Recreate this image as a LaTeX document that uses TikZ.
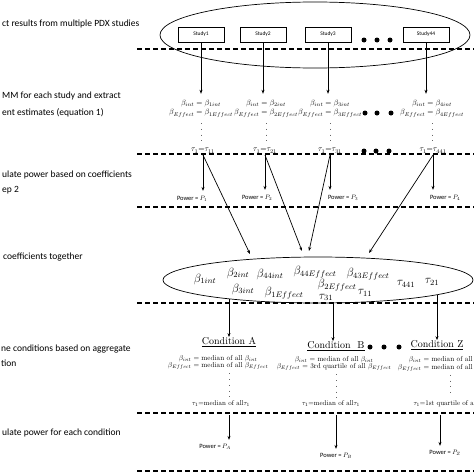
\documentclass[tikz,border=0pt]{standalone}
\usepackage{graphicx}
\usepackage{fontspec}
\newfontfamily\carl{Carlito}
\usetikzlibrary{shapes.geometric,arrows.meta}
\newcommand\smallbox[3]{\scalebox{#1}{\fontsize{10}{#2}\selectfont\begin{tabular}{@{}c@{}}#3\end{tabular}}}
\begin{document}
\begin{tikzpicture}[x=1pt,y=-1pt,
  arr/.style={line width=0.7pt,-{Stealth[length=4pt,width=3pt]}},
  sep/.style={line width=1.1pt,dash pattern=on 5pt off 3pt},
  dotv/.style={line width=0.7pt,dash pattern=on 0.7pt off 5pt,black!60},
  ell/.style={draw,ellipse,line width=0.7pt,inner sep=0pt},
  studybox/.style={draw,line width=0.6pt,minimum width=46pt,minimum height=15pt,inner sep=0pt,font=\carl\fontsize{5.5}{6}\selectfont},
  lefttxt/.style={anchor=west,inner sep=0pt,align=left},
  small/.style={inner sep=0pt},
  pw/.style={inner sep=0pt,font=\carl},
  bigdot/.style={circle,fill=black,inner sep=0pt,minimum size=5pt},
  term/.style={inner sep=0pt,font=\fontsize{12}{14}\selectfont},
  cond/.style={inner sep=0pt,font=\fontsize{10}{12}\selectfont}]
\clip (0,0) rectangle (474,474);
\fill[white] (0,0) rectangle (474,474);
% left texts
\node[lefttxt,font=\carl\fontsize{9.5}{17}\selectfont] (L1) at (2,24) {ct results from multiple PDX studies};
\node[lefttxt,font=\carl\fontsize{9.5}{17}\selectfont] (L2) at (2,104.5) {MM for each study and extract\\ent estimates (equation 1)};
\node[lefttxt,font=\carl\fontsize{9.5}{15}\selectfont] (L3) at (2,182.5) {ulate power based on coefficients\\ep 2};
\node[lefttxt,font=\carl\fontsize{9.5}{15}\selectfont] (L4) at (3,257) {coefficients together};
\node[lefttxt,font=\carl\fontsize{9.5}{15}\selectfont] (L5) at (1,355.5) {ne conditions based on aggregate\\tion};
\node[lefttxt,font=\carl\fontsize{9.5}{15}\selectfont] (L6) at (2,433) {ulate power for each condition};
% separators
\foreach \yy in {49,154,207,303,413,471} \draw[sep] (137,\yy) -- (474,\yy);
% top ellipse and studies
\node[ell,minimum width=310pt,minimum height=66pt] (E1) at (315,35) {};
\node[studybox] (s1) at (201,34.5) {Study1};
\node[studybox] (s2) at (263,34.5) {Study2};
\node[studybox] (s3) at (328,34.5) {Study3};
\node[studybox] (s4) at (426,34.5) {Study44};
\node[bigdot] (d1) at (364,40) {};
\node[bigdot] (d2) at (377,40) {};
\node[bigdot] (d3) at (390,40) {};
% coefficient estimates
\node[small] (b1) at (201,108) {\smallbox{0.78}{12.8}{$\beta_{int}=\beta_{1int}$\\$\beta_{Effect}=\beta_{1Effect}$}};
\node[small] (b2) at (266,108) {\smallbox{0.78}{12.8}{$\beta_{int}=\beta_{2int}$\\$\beta_{Effect}=\beta_{2Effect}$}};
\node[small] (b3) at (330,108) {\smallbox{0.78}{12.8}{$\beta_{int}=\beta_{3int}$\\$\beta_{Effect}=\beta_{3Effect}$}};
\node[small] (b4) at (432,108) {\smallbox{0.78}{12.8}{$\beta_{int}=\beta_{4int}$\\$\beta_{Effect}=\beta_{4Effect}$}};
\node[bigdot] (d4) at (365,113) {};
\node[bigdot] (d5) at (377,113) {};
\node[bigdot] (d6) at (391,113) {};
\node[small] (t1) at (203,150) {\smallbox{0.8}{12}{$\tau_1$=$\tau_{11}$}};
\node[small] (t2) at (265,150) {\smallbox{0.8}{12}{$\tau_1$=$\tau_{21}$}};
\node[small] (t3) at (330,150) {\smallbox{0.8}{12}{$\tau_1$=$\tau_{31}$}};
\node[small] (t4) at (433,150) {\smallbox{0.8}{12}{$\tau_1$=$\tau_{441}$}};
\node[bigdot] (d7) at (364,151) {};
\node[bigdot] (d8) at (376,151) {};
\node[bigdot] (d9) at (389,151) {};
\foreach \i in {1,2,3,4}{
  \draw[arr,shorten >=4pt] (s\i.south) -- (s\i.south |- b\i.north);
  \draw[dotv,shorten <=5pt,shorten >=4pt] (b\i.south) -- (b\i.south |- t\i.north);
}
% power per study
\node[pw] (p1) at (192,199) {\smallbox{0.65}{12}{Power = $P_1$}};
\node[pw] (p2) at (257,198) {\smallbox{0.65}{12}{Power = $P_2$}};
\node[pw] (p3) at (343,198) {\smallbox{0.65}{12}{Power = $P_3$}};
\node[pw] (p4) at (445,198) {\smallbox{0.65}{12}{Power = $P_4$}};
\foreach \i in {1,2,3,4}
  \draw[arr,shorten >=4pt] (t\i.south) -- (t\i.south |- p\i.north);
% lines to pooled ellipse
\coordinate (in1) at (250,254);
\coordinate (in2) at (302,251);
\coordinate (in3) at (309,251);
\coordinate (in4) at (369,253);
\foreach \i in {1,2,3,4}
  \draw[arr] (t\i.south) -- (in\i);
% pooled ellipse
\node[ell,minimum width=310pt,minimum height=46pt] (E2) at (318,280) {};
\node[term] (k1) at (205,279) {$\beta_{1int}$};
\node[term] (k2) at (238,273) {$\beta_{2int}$};
\node[term] (k3) at (243,289) {$\beta_{3int}$};
\node[term] (k4) at (270,274) {$\beta_{44int}$};
\node[term] (k5) at (315,272) {$\beta_{44Effect}$};
\node[term] (k6) at (368,274) {$\beta_{43Effect}$};
\node[term] (k7) at (284,293) {$\beta_{1Effect}$};
\node[term] (k8) at (337,285) {$\beta_{2Effect}$};
\node[term] (k9) at (326,297.5) {$\tau_{31}$};
\node[term] (k10) at (365,293) {$\tau_{11}$};
\node[term] (k11) at (406,284) {$\tau_{441}$};
\node[term] (k12) at (432,282) {$\tau_{21}$};
% conditions
\coordinate (e1) at (229,299);
\coordinate (e2) at (333,303);
\coordinate (e3) at (437,295);
\node[cond] (cA) at (229,342) {\underline{Condition A}};
\node[cond] (cB) at (336,346) {\underline{Condition\ \ B}};
\node[cond] (cZ) at (437,345) {\underline{Condition Z}};
\node[bigdot] (d10) at (370,347) {};
\node[bigdot] (d11) at (384,347) {};
\node[bigdot] (d12) at (399,347) {};
\draw[arr] (e1) -- (e1 |- cA.north);
\draw[arr] (e2) -- (e2 |- cB.north);
\draw[arr] (e3) -- (e3 |- cZ.north);
\node[small] (dA) at (218,362.5) {\smallbox{0.72}{10.7}{$\beta_{int}$ = median of all $\beta_{int}$\\$\beta_{Effect}$ = median of all $\beta_{Effect}$}};
\node[small] (dB) at (334,363.5) {\smallbox{0.72}{10.7}{$\beta_{int}$ = median of all $\beta_{int}$\\$\beta_{Effect}$ = 3rd quartile of all $\beta_{Effect}$}};
\node[small] (dZ) at (448,364) {\smallbox{0.72}{10.7}{$\beta_{int}$ = median of all $\beta_{int}$\\$\beta_{Effect}$ = median of all $\beta_{Effect}$}};
\node[small] (tA) at (221,404) {\smallbox{0.7}{12}{$\tau_1$=median of all$\tau_1$}};
\node[small] (tB) at (331,404) {\smallbox{0.7}{12}{$\tau_1$=median of all$\tau_1$}};
\node[small] (tZ) at (450,404) {\smallbox{0.7}{12}{$\tau_1$=1st quartile of all $\tau_1$}};
\draw[dotv,shorten <=3pt,shorten >=2pt] (dA.south -| cA) -- (tA.north -| cA);
\draw[dotv,shorten <=3pt,shorten >=2pt] (dB.south -| cB) -- (tB.north -| cB);
\draw[dotv,shorten <=3pt,shorten >=2pt] (dZ.south -| tZ) -- (tZ.north);
\node[pw] (pA) at (215,447) {\smallbox{0.65}{12}{Power = $P_A$}};
\node[pw] (pB) at (336,456) {\smallbox{0.65}{12}{Power = $P_B$}};
\node[pw] (pZ) at (445,453) {\smallbox{0.65}{12}{Power = $P_Z$}};
\draw[arr,shorten <=7pt,shorten >=3pt] (tA.south -| cA) -- (pA.north -| cA);
\draw[arr,shorten <=7pt,shorten >=3pt] (tB.south -| cB) -- (pB.north -| cB);
\draw[arr,shorten <=7pt,shorten >=3pt] (tZ.south -| 440,0) -- (pZ.north -| 440,0);
\end{tikzpicture}
\end{document}
